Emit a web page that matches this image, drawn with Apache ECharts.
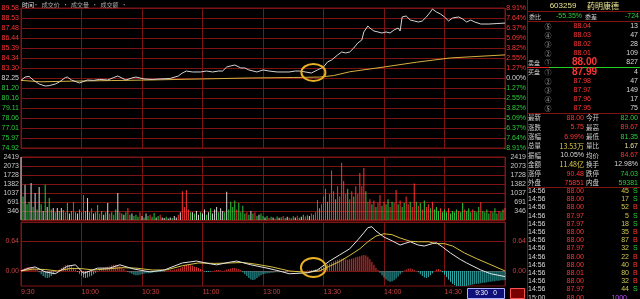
<!DOCTYPE html>
<html><head><meta charset="utf-8">
<script src="https://cdn.jsdelivr.net/npm/echarts@6/dist/echarts.min.js"></script>
<style>html,body{margin:0;padding:0;background:#000;}#c{width:640px;height:299px;}</style>
</head><body><div id="c"></div>
<script>
// ---------- data ----------
const prevClose = 82.25;
const priceTickLabels = ['74.92','75.97','77.01','78.06','79.11','80.16','81.20','82.25','83.30','84.34','85.39','86.44','87.48','88.53','89.58'];
const pctTickLabels = ['-8.91%','-7.64%','-6.37%','-5.09%','-3.82%','-2.55%','-1.27%','0.00%','1.27%','2.55%','3.82%','5.09%','6.37%','7.64%','8.91%'];
const volTickLabels = ['','346','691','1037','1382','1728','2073','2419'];
const macdTickLabels = ['','0.00','','0.64',''];
const timeLabels = ['9:30','10:00','10:30','11:00','13:00','13:30','14:00','14:30',''];

// [minute index, price]
const pricePts = [[0,82.00],[2,82.35],[4,82.42],[6,82.04],[9,81.62],[12,81.41],[14,81.45],[17,81.62],[19,81.83],[22,82.30],[23,82.35],[25,82.04],[29,81.73],[33,82.04],[36,82.00],[39,82.10],[43,82.04],[46,82.30],[48,82.46],[50,82.25],[52,82.04],[55,82.25],[57,82.35],[61,82.15],[65,82.10],[69,82.15],[74,82.20],[78,82.46],[80,82.77],[82,82.98],[85,82.88],[89,82.88],[92,82.98],[95,82.88],[98,82.98],[100,82.98],[102,83.40],[104,83.51],[106,83.61],[109,83.30],[111,83.30],[113,83.09],[117,82.88],[120,83.09],[123,82.98],[127,82.88],[130,82.88],[133,82.88],[136,82.98],[138,82.98],[141,82.88],[144,82.77],[147,83.09],[150,83.40],[152,83.93],[154,84.13],[157,84.66],[159,84.97],[161,84.87],[163,84.97],[165,85.39],[167,85.91],[169,86.23],[170,87.07],[172,87.69],[173,87.48],[175,87.17],[177,87.07],[179,86.96],[181,87.07],[183,86.96],[185,87.28],[187,87.48],[188,87.17],[189,88.64],[191,88.74],[193,88.32],[195,88.22],[197,88.11],[199,88.22],[201,88.64],[203,89.16],[204,89.47],[206,89.16],[208,88.95],[210,88.64],[212,88.22],[214,88.53],[217,88.64],[219,88.43],[221,88.11],[223,88.32],[225,88.11],[228,87.90],[232,87.90],[236,87.95],[240,88.00]];
const avgPts = [[0,82.00],[10,81.85],[25,81.92],[45,81.98],[64,82.04],[90,82.15],[113,82.25],[135,82.30],[148,82.35],[155,82.50],[163,82.90],[180,83.40],[196,83.90],[213,84.35],[240,84.67]];

// per-minute volume (手)
const volumes = [2419,
900,1350,600,700,1420,500,1037,400,1270,600,350,1350,500,845,400,460,300,460,350,460,380,
300,650,250,350,690,300,250,400,300,960,350,840,300,450,250,300,580,250,350,200,300,650,250,300,200,400,1037,300,250,200,300,460,200,250,150,200,120,300,150,100,250,150,200,120,270,100,150,200,
100,80,120,60,100,80,150,100,200,300,
1100,500,1150,400,300,
300,250,350,200,300,250,400,200,300,450,250,
400,500,300,450,350,300,
1080,400,
700,500,750,400,650,300,550,
250,300,200,350,250,300,150,200,250,150,
100,150,80,120,100,60,130,90,110,150,80,120,100,70,140,100,160,90,120,200,130,180,150,250,200,
300,770,450,600,
900,1200,700,1000,1900,1100,800,1300,900,2200,1500,
1000,1200,800,1100,900,1300,1000,
1800,1300,2000,
1100,700,800,600,750,500,650,960,550,700,
600,800,500,700,650,1150,600,750,500,650,
900,600,700,500,1400,700,550,650,400,750,500,600,450,700,400,
500,350,450,300,400,300,450,250,350,300,
400,350,300,650,400,350,450,300,400,350,
300,500,690,350,300,400,250,350,300,450,250,350,300,400,460];
// r = up (red), g = down (green), w = flat (white)
const volDir = 'w' + 'gwggwgwgwgwgwggwgwgwg' +
  'rgwgrgwg'+'grgwgrwg'+'grgwgwrg'+'ggwrgwgr'+'gwgggrwg'+'wgrggwgr' +
  'wwgwwgwwrw' + 'rrrrg' + 'wgwwgwwgwgw' + 'wwgwwg' + 'wg' + 'gggrggg' + 'grgwgrgwgg' +
  'wgrgwrgwgrgwrggwrgwgrgwrg' + 'rrgr' + 'rrgrrrgrrrr' + 'rgrrgrr' + 'rrr' + 'grrgrgrrgr' +
  'ggrgrrgrgg' + 'rrgrrgrgrgrrgrg' + 'ggrgggrggg' + 'grggrgggrg' + 'ggrggggrgggrggr';

const difPts = [[0,0],[4,0.06],[7,0.085],[12,-0.02],[17,-0.06],[23,0.10],[27,0.13],[31,-0.05],[38,0.06],[44,0.06],[49,0.13],[56,0.04],[64,-0.02],[71,0.02],[80,0.17],[87,0.21],[94,0.15],[97,0.13],[104,0.19],[107,0.21],[114,0.13],[122,0.06],[128,0],[133,-0.06],[142,-0.04],[147,0.02],[153,0.21],[158,0.34],[163,0.47],[167,0.66],[170,0.81],[172,0.92],[174,0.94],[176,0.85],[180,0.72],[184,0.64],[188,0.55],[190,0.58],[193,0.62],[197,0.55],[200,0.53],[204,0.58],[206,0.60],[209,0.51],[213,0.38],[218,0.24],[221,0.17],[228,0.02],[233,-0.06],[240,-0.12]];
const deaPts = [[0,0],[6,0.04],[12,0.03],[18,0.0],[24,0.05],[30,0.05],[36,0.02],[42,0.04],[50,0.07],[57,0.06],[65,0.02],[72,0.02],[80,0.11],[88,0.17],[96,0.16],[104,0.17],[110,0.18],[117,0.14],[125,0.08],[133,0.0],[142,-0.03],[148,0.0],[153,0.10],[158,0.20],[163,0.33],[168,0.47],[172,0.62],[176,0.74],[180,0.79],[184,0.77],[188,0.70],[193,0.63],[197,0.62],[202,0.62],[206,0.58],[210,0.58],[214,0.53],[220,0.38],[226,0.26],[232,0.15],[240,0.0]];
const macdHist = [0.02,0.04,
0.06,0.08,0.085,0.08,0.06,0.04,0.02,
-0.03,-0.07,-0.11,-0.14,-0.15,-0.14,-0.11,-0.07,-0.03,
0.0,0.03,0.06,
0.09,0.12,0.13,0.12,0.10,0.07,0.03,
-0.02,-0.06,-0.10,-0.14,-0.15,-0.14,-0.12,-0.10,-0.07,-0.04,-0.01,
0.02,0.05,0.07,0.08,0.09,0.10,0.12,0.13,0.13,0.12,0.10,0.07,0.04,0.01,
-0.02,-0.04,-0.06,-0.08,-0.09,-0.09,-0.08,-0.07,-0.06,-0.05,-0.05,-0.04,-0.04,-0.03,-0.03,-0.02,-0.02,
-0.01,-0.01,0.0,0.01,0.02,0.02,0.03,0.04,0.05,0.07,
0.09,0.11,0.13,0.13,0.12,0.11,0.09,0.08,0.06,0.04,0.02,
-0.01,-0.02,-0.02,-0.01,0.0,0.01,0.02,0.02,0.01,0.0,0.01,0.03,0.04,
0.05,0.06,0.06,0.05,0.04,0.02,
-0.03,-0.07,-0.11,-0.15,-0.18,-0.19,-0.18,-0.15,-0.12,-0.09,-0.07,
-0.06,-0.05,-0.05,-0.04,-0.04,-0.03,-0.03,-0.03,-0.02,-0.02,-0.02,-0.02,-0.01,
-0.01,-0.01,-0.02,-0.02,-0.01,-0.01,0.0,0.0,0.01,0.01,0.02,0.02,0.03,0.04,
0.05,0.07,0.09,0.11,0.14,0.16,0.18,0.20,0.22,0.24,0.25,0.26,0.27,0.25,0.24,0.25,0.26,0.27,0.29,0.30,0.31,0.33,0.34,0.33,0.30,0.25,0.19,0.13,0.07,0.02,
-0.04,-0.09,-0.14,-0.18,-0.21,-0.23,-0.22,-0.20,-0.16,-0.12,-0.07,-0.03,
0.01,0.03,0.05,0.05,0.04,0.02,0.0,
-0.03,-0.07,-0.11,-0.14,-0.15,-0.13,-0.09,-0.05,
0.0,0.03,0.04,0.02,
-0.03,-0.08,-0.13,-0.18,-0.23,-0.27,-0.30,-0.32,-0.33,-0.34,-0.34,-0.33,-0.32,-0.31,-0.30,-0.29,-0.28,-0.27,-0.27,-0.26,-0.25,-0.25,-0.24,-0.23,-0.23,-0.22,-0.22,-0.21,-0.21,-0.20,-0.20,-0.19];

// right panel
const stockCode = '603259', stockName = '药明康德';
const weiBi = '-55.35%', weiCha = '-724';
const sellPrices = ['88.04','88.03','88.02','88.01','88.00'];
const sellVols = ['13','47','28','109','827'];
const buyPrices = ['87.99','87.98','87.97','87.96','87.95'];
const buyVols = ['4','47','149','17','75'];
const statLabelsL = ['最新','涨跌','涨幅','总量','振幅','金额','涨停','外盘'];
const statValuesL = ['88.00','5.75','6.99%','13.53万','10.05%','11.48亿','90.48','75851'];
const statLabelsR = ['今开','最高','最低','量比','均价','换手','跌停','内盘'];
const statValuesR = ['82.00','89.67','81.35','1.67','84.67','12.98%','74.03','59381'];
const tickTimes = ['14:56','14:56','14:56','14:56','14:56','14:56','14:56','14:56','14:56','14:56','14:56','14:56','14:56','15:00'];
const tickPrices = ['88.00','88.00','88.00','87.97','87.97','88.00','88.00','87.97','88.00','88.00','88.01','88.00','87.97','88.00'];
const tickVols = ['45','17','52','5','18','35','87','32','22','40','80','32','44','1000'];
const tickSides = ['S','S','B','S','S','B','B','S','B','B','B','B','S',''];

// ---------- styles ----------
const GRID = '#7c1414';
const RED = '#ff3434', GREEN = '#2ccc3c', WHITE = '#d8d8d8', YEL = '#e0d050', CYAN = '#30b4b4';
const NUMF = '"Liberation Sans", Arial, sans-serif';
const CJKF = '"Noto Sans CJK SC", sans-serif';

function lab(arr, min, step) {
  return function (v) { const k = (v - min) / step, r = Math.round(k); return Math.abs(k - r) > 1e-4 ? '' : (arr[r] || ''); };
}
function priceColor(v) { v = parseFloat(v); return v > prevClose + 0.01 ? RED : (v < prevClose - 0.01 ? GREEN : WHITE); }

const PMIN = 74.92, PSTEP = 1.047, PMAX = 89.578;
const VSTEP = 345.5, VMAX = 2418.5;
const MMIN = -0.32, MSTEP = 0.32, MMAX = 1.04;

const chart = echarts.init(document.getElementById('c'), null, { renderer: 'canvas', width: 640, height: 299 });
const gridBase = { left: 21, right: 135, show: true, borderColor: GRID, borderWidth: 1, backgroundColor: 'transparent', containLabel: false, outerBoundsMode: 'none' };
const xBase = (i) => ({
  type: 'value', gridIndex: i, min: 0, max: 240, interval: 30,
  axisLine: { show: false }, axisTick: { show: false },
  axisLabel: i === 2 ? { show: true, formatter: lab(timeLabels, 0, 30), align: 'left', color: '#c84040', fontSize: 7, fontFamily: NUMF, margin: 3 } : { show: false },
  splitLine: { show: true, lineStyle: { color: GRID, width: 1 } }
});
const yBase = (grid, pos, min, max, step, fmt, color, extra) => Object.assign({
  type: 'value', gridIndex: grid, position: pos, min: min, max: max, interval: step,
  axisLine: { show: false }, axisTick: { show: false },
  axisLabel: { formatter: fmt, color: color, fontSize: 7, fontFamily: NUMF, margin: pos === 'left' ? 2 : 21, align: 'right' },
  splitLine: { show: pos === 'left', lineStyle: { color: GRID, width: 1 } }
}, extra || {});

const macdSplitColors = ['rgba(0,0,0,0)', GRID, 'rgba(0,0,0,0)', GRID, 'rgba(0,0,0,0)', GRID];
const dirColor = { r: RED, g: GREEN, w: WHITE };

const option = {
  backgroundColor: '#000',
  animation: false,
  grid: [
    Object.assign({ top: 8, height: 140 }, gridBase),
    Object.assign({ top: 157, height: 63 }, gridBase),
    Object.assign({ top: 222, height: 64 }, gridBase)
  ],
  xAxis: [xBase(0), xBase(1), xBase(2)],
  yAxis: [
    yBase(0, 'left', PMIN, PMAX, PSTEP, lab(priceTickLabels, PMIN, PSTEP), priceColor),
    yBase(0, 'right', PMIN, PMAX, PSTEP, lab(pctTickLabels, PMIN, PSTEP), priceColor, {}),
    yBase(1, 'left', 0, VMAX, VSTEP, lab(volTickLabels, 0, VSTEP), '#c8c8c8'),
    yBase(1, 'right', 0, VMAX, VSTEP, lab(volTickLabels, 0, VSTEP), '#c8c8c8'),
    yBase(2, 'left', MMIN, MMAX, MSTEP, lab(macdTickLabels, MMIN, MSTEP), '#c84040', { splitLine: { show: true, lineStyle: { color: macdSplitColors, width: 1 } } }),
    yBase(2, 'right', MMIN, MMAX, MSTEP, lab(macdTickLabels, MMIN, MSTEP), '#c84040')
  ],
  series: [
    { type: 'line', xAxisIndex: 0, yAxisIndex: 0, data: avgPts, symbol: 'none', silent: true, lineStyle: { color: '#d8b040', width: 1 }, z: 3 },
    { type: 'line', xAxisIndex: 0, yAxisIndex: 0, data: pricePts, symbol: 'none', silent: true, lineStyle: { color: '#d4d4d4', width: 1 }, z: 4 },
    { type: 'bar', xAxisIndex: 1, yAxisIndex: 2, barWidth: 1, silent: true,
      data: volumes.map((v, i) => ({ value: [i, v], itemStyle: { color: dirColor[volDir[i]] || RED } })) },
    { type: 'bar', xAxisIndex: 2, yAxisIndex: 4, barWidth: 1, silent: true,
      data: macdHist.map((v, i) => ({ value: [i, v], itemStyle: { color: v >= 0 ? '#e03434' : CYAN } })) },
    { type: 'line', xAxisIndex: 2, yAxisIndex: 4, data: deaPts, symbol: 'none', silent: true, lineStyle: { color: '#d8c040', width: 1 }, z: 3 },
    { type: 'line', xAxisIndex: 2, yAxisIndex: 4, data: difPts, symbol: 'none', silent: true, lineStyle: { color: '#e4e4e4', width: 1 }, z: 4 }
  ]
};
chart.setOption(option);

// ---------- panel & annotations ----------
function T(x, y, text, fill, size, align, fam, weight) {
  return { type: 'text', x: x, y: y, silent: true, z: 10,
    style: { text: text, fill: fill, fontSize: size || 7, fontFamily: fam || NUMF, fontWeight: weight || 'normal', align: align || 'left', verticalAlign: 'middle' } };
}
function L(x1, y1, x2, y2, c, w) { return { type: 'line', silent: true, z: 9, shape: { x1, y1, x2, y2 }, style: { stroke: c, lineWidth: w || 1 } }; }
const g = [];
g.push(T(22, 4.5, '时间', '#e0e0e0', 6, 'left', CJKF));
g.push(T(33, 4.5, '·  成交价  ·  成交量  ·  成交额  ·', '#a8a8a8', 6, 'left', CJKF));
// panel frame
g.push(L(527.5, 0, 527.5, 299, GRID));
g.push(L(527, 11.5, 640, 11.5, GRID));
g.push(L(527, 21.5, 640, 21.5, GRID));
g.push(L(527, 113.5, 640, 113.5, GRID));
g.push(L(527, 187.5, 640, 187.5, GRID));
g.push(T(563, 6, stockCode, '#e8e490', 8, 'center', NUMF));
g.push(T(603, 6, stockName, '#e8e490', 8, 'center', CJKF));
g.push(T(529, 16.5, '委比', '#d0d0d0', 6, 'left', CJKF));
g.push(T(569, 16.5, weiBi, GREEN, 7, 'center'));
g.push(T(585, 16.5, '委差', '#d0d0d0', 6, 'left', CJKF));
g.push(T(639, 16.5, weiCha, GREEN, 7, 'right'));
const circ = ['①','②','③','④','⑤'];
const sellY = [26.5, 35.5, 44.5, 53.5, 62.5];
const buyY = [72.5, 81.5, 90.5, 99.5, 108.5];
for (let k = 0; k < 5; k++) {
  const big = k === 4;
  g.push(T(548, sellY[k], circ[4 - k], '#a0a0a0', 7, 'center', CJKF));
  g.push(T(big ? 597 : 591, sellY[k], sellPrices[k], RED, big ? 10 : 7, 'right', NUMF, big ? 'bold' : 'normal'));
  g.push(T(638, sellY[k], sellVols[k], WHITE, 7, 'right'));
}
for (let k = 0; k < 5; k++) {
  const big = k === 0;
  g.push(T(548, buyY[k], circ[k], '#a0a0a0', 7, 'center', CJKF));
  g.push(T(big ? 597 : 591, buyY[k], buyPrices[k], RED, big ? 10 : 7, 'right', NUMF, big ? 'bold' : 'normal'));
  g.push(T(638, buyY[k], buyVols[k], WHITE, 7, 'right'));
}
g.push(T(528, 62.5, '卖盘', '#d0d0d0', 6, 'left', CJKF));
g.push(T(528, 72, '买盘', '#d0d0d0', 6, 'left', CJKF));
g.push(L(527, 67.5, 549, 67.5, '#e02020', 1));
g.push(L(549, 67.5, 640, 67.5, '#20d020', 1));
const statY = [118, 127.3, 136.6, 145.9, 155.1, 164.4, 173.7, 183];
const colL = [RED, RED, RED, YEL, WHITE, YEL, RED, RED];
const colR = [GREEN, RED, GREEN, '#e0e0a0', RED, WHITE, GREEN, GREEN];
for (let k = 0; k < 8; k++) {
  g.push(T(528, statY[k], statLabelsL[k], '#d0d0d0', 6.5, 'left', CJKF));
  g.push(T(584, statY[k], statValuesL[k], colL[k], 7, 'right', k === 3 || k === 5 ? CJKF : NUMF));
  g.push(T(586, statY[k], statLabelsR[k], '#d0d0d0', 6.5, 'left', CJKF));
  g.push(T(638, statY[k], statValuesR[k], colR[k], 7, 'right'));
}
for (let k = 0; k < tickTimes.length; k++) {
  const y = 191 + k * 8.2;
  g.push(T(528, y, tickTimes[k], WHITE, 7, 'left'));
  g.push(T(584, y, tickPrices[k], RED, 7, 'right'));
  const last = k === tickTimes.length - 1;
  g.push(T(last ? 627 : 629, y, tickVols[k], last ? '#c050ff' : '#d0c850', 7, 'right'));
  if (tickSides[k]) g.push(T(633, y, tickSides[k], tickSides[k] === 'B' ? RED : GREEN, 7, 'left'));
}
// bottom status boxes
g.push({ type: 'rect', silent: true, z: 9, shape: { x: 467.5, y: 288.5, width: 37, height: 10 }, style: { fill: '#10107a', stroke: '#b0b0ff', lineWidth: 1 } });
g.push(T(486, 293.5, '9:30   0', '#ffffff', 6.5, 'center'));
g.push({ type: 'rect', silent: true, z: 9, shape: { x: 510.5, y: 288.5, width: 14, height: 10 }, style: { fill: '#7a0000', stroke: '#ff5050', lineWidth: 1 } });

// annotation ellipses anchored on data coordinates
const notes = [{ grid: 0, at: [145, 82.83], rx: 12, ry: 8.5 }, { grid: 2, at: [145, 0.074], rx: 12.5, ry: 9.5 }];
notes.forEach(n => {
  const p = chart.convertToPixel({ gridIndex: n.grid }, n.at);
  g.push({ type: 'ellipse', silent: true, z: 12, shape: { cx: p[0], cy: p[1], rx: n.rx, ry: n.ry }, style: { fill: 'none', stroke: '#e8b024', lineWidth: 2 } });
});
chart.setOption({ graphic: { elements: g } });
</script></body></html>
